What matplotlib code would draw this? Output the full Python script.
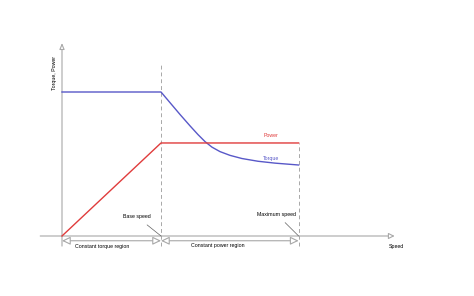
import numpy as np
import matplotlib.pyplot as plt
from matplotlib.patches import FancyArrowPatch

plt.rcParams['font.family'] = ['Liberation Sans', 'DejaVu Sans']

# speed normalised to base speed, torque/power normalised to rated torque
base_speed = 1.0
max_speed = 2.39
torque_speed = [0.0, 1.0, 1.091, 1.192, 1.293, 1.374, 1.444, 1.515, 1.596, 1.697,
                1.818, 1.980, 2.152, 2.39]
torque_vals = [1.0, 1.0, 0.926, 0.844, 0.765, 0.704, 0.656, 0.617, 0.586, 0.560,
               0.538, 0.519, 0.506, 0.493]
power_speed = [0.0, 1.0, 2.39]
power_vals = [0.0, 0.646, 0.646]

blue = '#5858c8'
red = '#e03c3c'
grey = '#a8a8a8'
fs = 3.8

fig = plt.figure(figsize=(4.74, 2.96), dpi=100)
ax = fig.add_axes([0, 0, 1, 1])
ax.set_xlim(-62 / 99, 412 / 99)
ax.set_ylim(-60 / 144, 236 / 144)
ax.axis('off')

def arrow(p0, p1, style, lw=0.8):
    ax.add_patch(FancyArrowPatch(p0, p1, arrowstyle=style, mutation_scale=1,
                                 shrinkA=0, shrinkB=0, lw=lw, ec=grey, fc='white',
                                 zorder=3))

# axes with open arrowheads
arrow((0, -0.07), (0, 1.34), '-|>,head_length=3.6,head_width=1.5')
arrow((-0.22, 0), (3.36, 0), '-|>,head_length=3.6,head_width=1.8')

# dashed markers at base and maximum speed
ax.plot([base_speed, base_speed], [-0.07, 1.19], ls=(0, (4, 3)), color=grey, lw=0.7)
ax.plot([max_speed, max_speed], [-0.07, 0.646], ls=(0, (4, 3)), color=grey, lw=0.7)

# curves
ax.plot(torque_speed, torque_vals, color=blue, lw=1.0, zorder=4)
ax.plot(power_speed, power_vals, color=red, lw=1.0, zorder=4)

# region dimension arrows
dim_y = -0.033
arrow((0, dim_y), (base_speed, dim_y), '<|-|>,head_length=5,head_width=2.4')
arrow((base_speed, dim_y), (max_speed, dim_y), '<|-|>,head_length=5,head_width=2.4')

# labels
ax.text(-0.08, 1.13, 'Torque, Power', rotation=90, ha='center', va='center', fontsize=fs)
ax.text(3.38, -0.075, 'Speed', ha='center', va='center', fontsize=fs)
ax.text(2.11, 0.698, 'Power', color=red, ha='center', va='center', fontsize=fs)
ax.text(2.11, 0.535, 'Torque', color=blue, ha='center', va='center', fontsize=fs)
ax.text(0.41, -0.07, 'Constant torque region', ha='center', va='center', fontsize=fs)
ax.text(1.575, -0.065, 'Constant power region', ha='center', va='center', fontsize=fs)

ax.annotate('Base speed', xy=(base_speed, 0), xytext=(0.76, 0.132),
            ha='center', va='center', fontsize=fs,
            arrowprops=dict(arrowstyle='-', color='#606060', lw=0.5,
                            shrinkA=3, shrinkB=0))
ax.annotate('Maximum speed', xy=(max_speed, 0), xytext=(2.17, 0.15),
            ha='center', va='center', fontsize=fs,
            arrowprops=dict(arrowstyle='-', color='#606060', lw=0.5,
                            shrinkA=3, shrinkB=0))

fig.savefig('out.png', dpi=100)
